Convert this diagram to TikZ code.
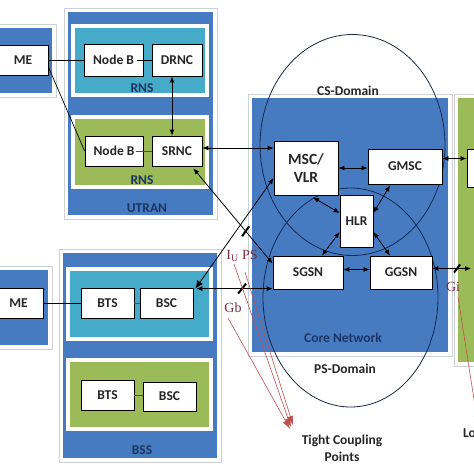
\documentclass[tikz,border=0pt]{standalone}
\usepackage{fontspec}
\setmainfont{Carlito}
\newfontfamily\labserif{Liberation Serif}
\usetikzlibrary{arrows.meta,calc}
\definecolor{pblue}{HTML}{467BC2}
\definecolor{pteal}{HTML}{45ABC8}
\definecolor{pgreen}{HTML}{9BBB59}
\definecolor{navy}{HTML}{1C3563}
\definecolor{maroonc}{HTML}{7A2E3E}
\definecolor{redline}{HTML}{C0504D}
\definecolor{framegray}{HTML}{CDD1D6}
\newcommand\mypanel[5]{\draw[frame] (#1-4,#2-4) rectangle (#3+4,#4+4); \fill[#5] (#1,#2) rectangle (#3,#4);}
\newcommand\mysubpanel[5]{\fill[white] (#1-4,#2-4) rectangle (#3+4,#4+4); \fill[#5] (#1,#2) rectangle (#3,#4);}
\tikzset{
 box/.style={draw=black, fill=white, line width=0.8pt, inner sep=0pt, font=\bfseries\fontsize{13.5}{16}\selectfont, text=black!85},
 frame/.style={fill=white, draw=framegray, line width=0.8pt},
 lab/.style={font=\bfseries\fontsize{13.5}{16}\selectfont, text=navy, inner sep=0pt},
 dom/.style={font=\bfseries\fontsize{13.5}{17}\selectfont, inner sep=0pt, text=black!85},
 ser/.style={font=\labserif\fontsize{14}{16}\selectfont, text=maroonc, inner sep=0pt},
 link/.style={line width=0.7pt, draw=black},
 dar/.style={line width=0.8pt, {Latex[length=6pt,width=5pt]}-{Latex[length=6pt,width=5pt]}},
 ring/.style={draw=navy!80!black, line width=0.8pt},
 tickmark/.style={line width=2pt, draw=black},
 pointer/.style={draw=redline, line width=0.6pt, -{Latex[length=9pt,width=6pt]}},
}
\begin{document}
\begin{tikzpicture}[x=1pt,y=-1pt]
\clip (0,0) rectangle (474,474);
\fill[white] (0,0) rectangle (474,474);
% panels
\mypanel{-5}{28}{52}{93}{pblue}
\mypanel{68}{12}{213}{215}{pblue}
\mysubpanel{75}{28}{205}{93}{pteal}
\mysubpanel{75}{119}{205}{185}{pgreen}
\mypanel{252}{98}{448}{352}{pblue}
\mypanel{458}{98}{490}{362}{pgreen}
\mypanel{-5}{270}{48}{345}{pblue}
\mypanel{63}{253}{217}{458}{pblue}
\mysubpanel{70}{271}{209}{337}{pteal}
\mysubpanel{70}{362}{209}{427}{pgreen}
% domains
\draw[ring] (352.5,145) ellipse [x radius=92.5, y radius=110.5];
\draw[ring] (350.5,297.5) ellipse [x radius=87.5, y radius=109.5];
% boxes
\node[box, minimum width=50pt, minimum height=30pt] (me1) at (23,60) {ME};
\node[box, minimum width=59pt, minimum height=32pt] (nb1) at (113.5,60) {Node B};
\node[box, minimum width=50pt, minimum height=32pt] (drnc) at (177,60) {DRNC};
\node[box, minimum width=58pt, minimum height=30pt] (nb2) at (114,151) {Node B};
\node[box, minimum width=50pt, minimum height=30pt] (srnc) at (177,151) {SRNC};
\node[box, minimum width=64pt, minimum height=54pt, align=center, font=\bfseries\fontsize{15.5}{18}\selectfont] (msc) at (306,168) {MSC/\\VLR};
\node[box, minimum width=74pt, minimum height=35pt] (gmsc) at (405,166.5) {GMSC};
\node[box, minimum width=33pt, minimum height=52pt] (hlr) at (356.5,221) {HLR};
\node[box, minimum width=70pt, minimum height=33pt] (sgsn) at (308,272.5) {SGSN};
\node[box, minimum width=62pt, minimum height=33pt] (ggsn) at (401,272.5) {GGSN};
\node[box, minimum width=43pt, minimum height=38pt] (rb) at (488.5,168) {};
\node[box, minimum width=49pt, minimum height=30pt] (me2) at (18.5,303) {ME};
\node[box, minimum width=53pt, minimum height=30pt] (bts1) at (107.5,303) {BTS};
\node[box, minimum width=53pt, minimum height=30pt] (bsc1) at (166.5,303) {BSC};
\node[box, minimum width=53pt, minimum height=30pt] (bts2) at (107.5,395) {BTS};
\node[box, minimum width=53pt, minimum height=29pt] (bsc2) at (169.5,396.5) {BSC};
% panel labels
\node[lab] (rns1) at (142,88) {RNS};
\node[lab] (rns2) at (142,180) {RNS};
\node[lab] (utran) at (147,208) {UTRAN};
\node[lab] (bss) at (142,450) {BSS};
\node[lab] (core) at (343,338) {Core Network};
\node[dom] (cs) at (348,91) {CS-Domain};
\node[dom] (ps) at (345,369) {PS-Domain};
\node[dom, align=center] (tcp) at (342,448.5) {Tight Coupling\\Points};
\node[dom, align=center, anchor=west] (lcp) at (463,441.5) {Loose Coupling\\Points};
\node[ser] (iups) at (242,256) {I\textsubscript{U} PS};
\node[ser] (gb) at (233,308) {Gb};
\node[ser] (gi) at (453,287) {Gi};
% plain links
\draw[link] (me1.east) -- (nb1.west);
\draw[link] ([yshift=-7pt]me1.east) -- (nb2.west);
\draw[link] ([xshift=-6pt]nb1.east) -- (drnc.west);
\draw[link, draw=black!70] ([xshift=-7pt]nb2.east) -- (srnc.west);
\draw[link] (me2.east) -- (bts1.west);
\draw[link, draw=black!70] (bts1.east) -- (bsc1.west);
\draw[link, draw=black!70] (bts2.east) -- (bts2.east -| bsc2.west);
% arrows
\draw[dar] ([xshift=-5pt]drnc.south) -- ([xshift=-5pt]srnc.north);
\coordinate (s1) at ([yshift=3pt]srnc.east);
\draw[dar] (s1) -- (s1 -| msc.west);
\draw[dar] ([xshift=-9pt,yshift=-2pt]srnc.south east) -- ([yshift=-8pt]sgsn.north west) coordinate[pos=0.66] (tiu);
\draw[line width=0.8pt, {Latex[length=8pt,width=7pt]}-{Latex[length=6pt,width=5pt]}] ([xshift=2pt,yshift=-1pt]bsc1.north east) -- ([yshift=-10pt]msc.west);
\coordinate (g1) at ([xshift=3pt,yshift=-1pt]bsc1.north east);
\draw[dar] (g1) -- (g1 -| sgsn.west) coordinate[pos=0.6] (tgb);
\draw[dar] (msc.east) -- (msc.east -| gmsc.west);
\draw[dar] ([xshift=7pt,yshift=-2pt]msc.south) -- ([yshift=8pt]hlr.west);
\draw[dar] ([xshift=-15pt,yshift=-1pt]gmsc.south) -- ([yshift=8pt]hlr.east);
\draw[dar] ([yshift=-11pt]hlr.west) -- ([xshift=14pt]sgsn.north);
\draw[dar] ([yshift=-11pt]hlr.east) -- ([xshift=-11pt]ggsn.north);
\draw[dar] ([yshift=3pt]sgsn.east) -- ([yshift=3pt]ggsn.west);
\coordinate (g2) at ([yshift=8pt]gmsc.east);
\draw[dar] (g2) -- (g2 -| rb.west);
\coordinate (g3) at ([yshift=4pt]ggsn.east);
\coordinate (g3end) at (471,268.5);
\draw[dar] (g3) -- (g3end) coordinate[pos=0.64] (tgi);
% ticks
\draw[tickmark] ($(tiu)+(-3.5,5)$) -- ($(tiu)+(3.5,-5)$);
\draw[tickmark] ($(tgb)+(-4,5)$) -- ($(tgb)+(4,-5)$);
\draw[tickmark] ($(tgi)+(-3,4)$) -- ($(tgi)+(3,-4)$);
% pointers
\coordinate (pa) at (234,264);
\coordinate (pb) at (245,272);
\coordinate (pc) at (228,318);
\coordinate (pd) at (458,297);
\draw[pointer] (pa) -- (291,427);
\draw[pointer] (pb) -- (293,425);
\draw[pointer] (pc) -- (290,429);
\draw[pointer] (pd) -- (478,425);
\end{tikzpicture}
\end{document}
